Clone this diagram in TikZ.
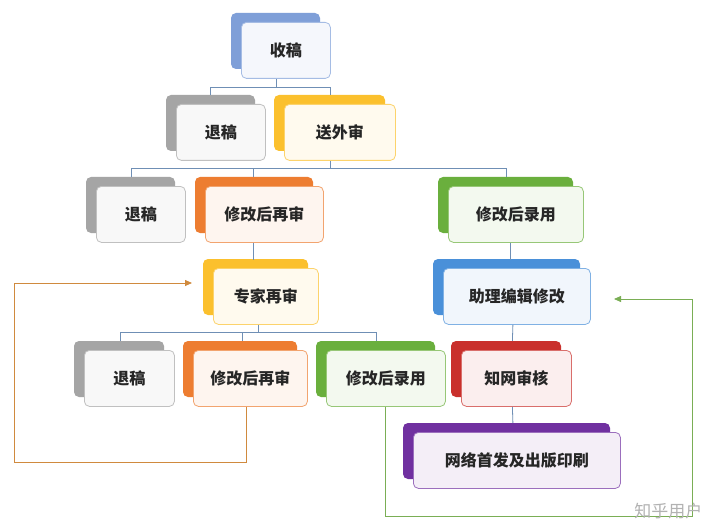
\documentclass[tikz,border=0pt]{standalone}
\usepackage{fontspec}
\newfontfamily\cjk{Noto Sans CJK SC}
\usetikzlibrary{calc,arrows.meta}
\definecolor{cblue}{HTML}{7F9FD8}
\definecolor{cgrey}{HTML}{A5A5A5}
\definecolor{cyel}{HTML}{FBC02D}
\definecolor{corg}{HTML}{ED7D31}
\definecolor{cgrn}{HTML}{6AAF3D}
\definecolor{cblu2}{HTML}{4A90D9}
\definecolor{cred}{HTML}{C9302C}
\definecolor{cpur}{HTML}{7030A0}
\definecolor{conn}{HTML}{6F8FB5}
\definecolor{forg}{HTML}{D08A3E}
\definecolor{fgrn}{HTML}{7AAE55}
\tikzset{front/.style={rounded corners=5pt,line width=0.8pt,inner sep=0pt,font=\cjk\fontsize{16}{16}\selectfont\bfseries,text=black!85},
cn/.style={draw=conn,line width=0.8pt}}
\newcommand\blk[7]{\fill[#6,rounded corners=5pt] (#2-10,#3-9) rectangle ++(#4,#5);
\node[front,draw=#6!70,fill=#6!8,minimum width=#4pt,minimum height=#5pt,anchor=north west] (#1) at (#2,#3) {#7};}
\begin{document}
\begin{tikzpicture}[x=1pt,y=-1pt]
\useasboundingbox[fill=white] (0,0) rectangle (715,532);
\blk{a}{241}{22}{89}{56}{cblue}{收稿}
\blk{b1}{176}{104}{89}{56}{cgrey}{退稿}
\blk{b2}{284}{104}{111}{56}{cyel}{送外审}
\blk{c1}{96}{186}{89}{56}{cgrey}{退稿}
\blk{c2}{205}{186}{118}{56}{corg}{修改后再审}
\blk{c3}{448}{186}{135}{56}{cgrn}{修改后录用}
\blk{d1}{213}{268}{105}{56}{cyel}{专家再审}
\blk{d2}{443}{268}{147}{56}{cblu2}{助理编辑修改}
\blk{e1}{84}{350}{90}{56}{cgrey}{退稿}
\blk{e2}{193}{350}{114}{56}{corg}{修改后再审}
\blk{e3}{326}{350}{119}{56}{cgrn}{修改后录用}
\blk{e4}{461}{350}{110}{56}{cred}{知网审核}
\blk{f}{413}{432}{207}{56}{cpur}{网络首发及出版印刷}
% connectors
\draw[cn] ($(a.south)+(-10,0)$) -- ++(0,9) coordinate (h1);
\draw[cn] (h1) -| ($(b1.north)+(-11,-9)$);
\draw[cn] (h1) -| ($(b2.north)+(-10,-9)$);
\draw[cn] ($(b2.south)+(-10,0)$) -- ++(0,8) coordinate (h2);
\draw[cn] (h2) -| ($(c1.north)+(-10,-9)$);
\draw[cn] (h2) -| ($(c2.north)+(-11,-9)$);
\draw[cn] (h2) -| ($(c3.north)+(-10,-9)$);
\draw[cn] ($(c2.south)+(-11,0)$) -- ++(0,17);
\draw[cn] ($(c3.south)+(-6,0)$) -- ++(0,17);
\draw[cn] ($(d1.south)+(-8,0)$) -- ++(0,8) coordinate (h3);
\draw[cn] (h3) -| ($(e1.north)+(-9,-9)$);
\draw[cn] (h3) -| ($(e2.north)+(-8,-9)$);
\draw[cn] (h3) -| ($(e3.north)+(-10,-9)$);
\draw[cn] ($(d2.south)+(-4,0)$) -- ($(e4.north)+(-4,-9)$);
\draw[cn] ($(e4.south)+(-4,0)$) -- ($(f.north)+(-4,-9)$);
% feedback
\coordinate (o1) at (192,283);
\coordinate (g1) at (614,299);
\draw[draw=forg,line width=0.8pt,-{Triangle[length=7pt,width=6pt]}] ($(e2.south)+(-4,0)$) -- ++(0,56) -| (14,283) -- (o1);
\draw[draw=fgrn,line width=0.8pt,-{Triangle[length=7pt,width=6pt]}] ($(e3.south)+(-0.5,0)$) -- ++(0,110) -| (692,299) -- (g1);
\node[font=\cjk\fontsize{17}{17}\selectfont,text=black!30,anchor=south east] (wm) at (706,522) {知乎用户};
\end{tikzpicture}
\end{document}
